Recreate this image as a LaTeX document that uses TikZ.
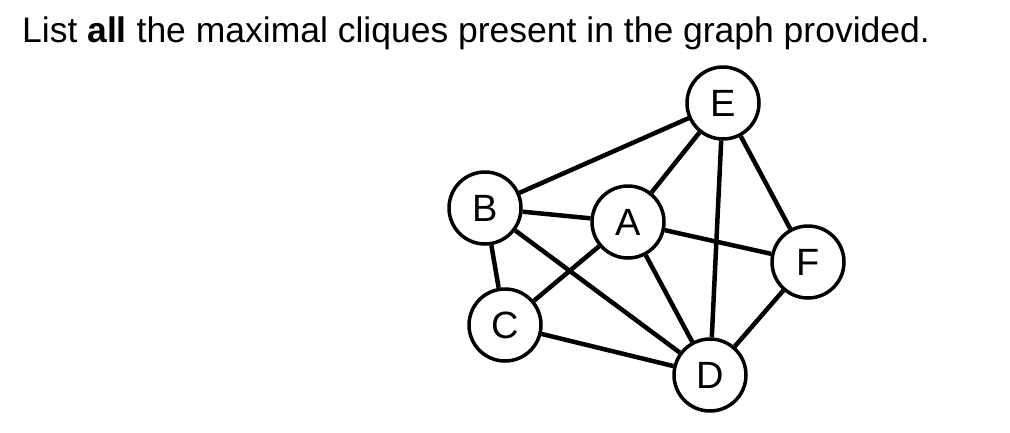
\documentclass[tikz,border=0pt]{standalone}
\usepackage{fontspec}
\setmainfont{Liberation Sans}
\begin{document}
\begin{tikzpicture}[x=1pt,y=-1pt,
  vert/.style={circle,draw,line width=3.5pt,fill=white,minimum size=72pt,inner sep=0pt,font=\fontsize{38}{42}\selectfont},
  edge/.style={line width=4.5pt}]
\useasboundingbox (0,0) rectangle (1010,432);
\node[anchor=base west,inner sep=0pt,font=\fontsize{35.5}{40}\selectfont] (t) at (22,42) {List \textbf{all} the maximal cliques present in the graph provided.};
\node[vert] (E) at (723,103) {E};
\node[vert] (B) at (485,208) {B};
\node[vert] (A) at (628,222) {A};
\node[vert] (F) at (808,262) {F};
\node[vert] (C) at (505,325) {C};
\node[vert] (D) at (710,375) {D};
\foreach \a/\b in {B/E,B/A,B/C,B/D,A/E,A/F,A/C,A/D,E/D,E/F,F/D,C/D}
  \draw[edge] (\a) -- (\b);
\end{tikzpicture}
\end{document}
